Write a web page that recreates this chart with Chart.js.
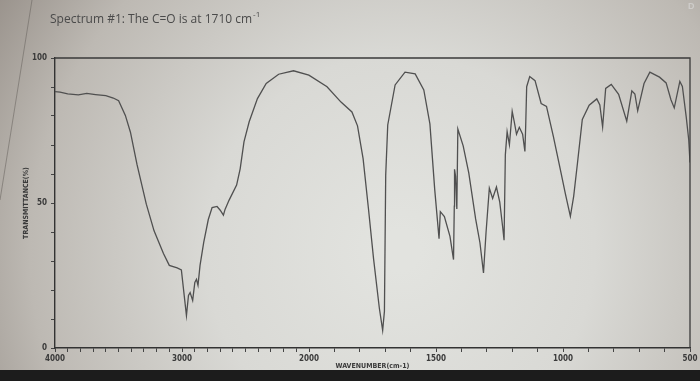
<!DOCTYPE html>
<html>
<head>
<meta charset="utf-8">
<script src="https://cdn.jsdelivr.net/npm/chart.js@4.4.1/dist/chart.umd.min.js"></script>
<style>
  html, body { margin: 0; padding: 0; background: #cfcccb; }
  #wrap { width: 700px; height: 381px; position: relative; }
  canvas { display: block; }
</style>
</head>
<body>
<div id="wrap"><canvas id="c" width="700" height="381"></canvas></div>
<script>
// ---- data ----
const chartTitle = 'Spectrum #1: The C=O is at 1710 cm';
const chartTitleSup = '-1';
const xAxisTitle = 'WAVENUMBER(cm-1)';
const yAxisTitle = 'TRANSMITTANCE(%)';

const wavenumbers = [4000,3960,3900,3816,3750,3681,3600,3541,3499,3446,
  3406,3354,3281,3220,3146,3100,3038,3005,2965,2949,
  2936,2916,2899,2886,2874,2858,2829,2793,2763,2724,
  2699,2674,2661,2629,2570,2542,2512,2471,2406,2337,
  2239,2122,2001,1929,1874,1831,1809,1787,1766,1746,
  1723,1710,1703,1698,1690,1661,1622,1582,1548,1524,
  1505,1488,1483,1467,1445,1431,1428,1427,1423,1418,
  1414,1393,1371,1344,1327,1313,1303,1290,1277,1262,
  1249,1237,1232,1227,1220,1211,1200,1192,1183,1172,
  1159,1150,1147,1143,1131,1110,1086,1065,1038,1010,
  991,971,958,943,924,897,867,855,844,832,
  810,781,749,729,717,706,681,658,620,594,
  575,562,540,530,515,505,500];

const transmittance = [88.4,88.2,87.6,87.3,87.8,87.4,87.0,86.2,85.3,80.2,
  74.4,63.2,49.6,40.4,32.6,28.5,27.6,26.9,11.2,18.1,
  19.1,16.4,22.6,23.7,21.6,28.5,36.4,44.3,48.4,48.8,
  47.5,45.8,47.8,51.0,56.2,61.8,71.1,78.0,86.0,91.2,
  94.4,95.6,94.1,90.1,84.8,81.4,76.6,65.3,48.1,30.9,
  13.7,6.1,12.7,59.6,76.9,90.7,95.1,94.5,89.0,77.3,
  54.6,37.7,47.0,45.3,38.5,30.5,48.9,61.6,59.2,47.9,
  75.5,69.7,60.4,44.5,36.3,25.9,39.8,55.1,51.6,55.5,
  50.3,41.3,37.2,66.6,74.6,70.1,81.6,78.1,73.7,76.1,
  73.7,67.8,76.2,90.1,93.6,92.2,84.3,83.3,73.0,61.3,
  53.3,45.4,52.3,63.8,78.8,83.7,85.9,83.8,76.2,89.5,
  90.9,87.5,78.2,88.7,87.6,81.8,91.2,95.1,93.4,91.4,
  85.6,82.8,91.9,90.2,79.8,71.8,64.0];

const xTickLabels = [4000, 3000, 2000, 1500, 1000, 500];
const xMinorStep = 100;
const yTickLabels = [0, 50, 100];

// The instrument chart doubles its scale below 2000 cm-1.
function toU(w) { return w >= 2000 ? 4000 - w : 2000 + 2 * (2000 - w); }
function fromU(u) { return u <= 2000 ? 4000 - u : 2000 - (u - 2000) / 2; }

const points = wavenumbers.map((w, i) => ({ x: toU(w), y: transmittance[i] }));

const backgroundPlugin = {
  id: 'photoBackground',
  beforeDraw(chart) {
    const ctx = chart.ctx;
    const W = chart.width, H = chart.height;
    ctx.save();
    const g = ctx.createRadialGradient(400, 250, 20, 400, 250, 520);
    g.addColorStop(0, '#e2e3df');
    g.addColorStop(0.35, '#d9d9d5');
    g.addColorStop(0.7, '#bdb9b3');
    g.addColorStop(1, '#8a827b');
    ctx.fillStyle = g;
    ctx.fillRect(0, 0, W, H);
    // dark band at the bottom of the photo
    ctx.fillStyle = '#1c1c1c';
    ctx.fillRect(0, 370, W, H - 370);
    // faint paper edge at top-left
    ctx.strokeStyle = 'rgba(110,105,100,0.6)';
    ctx.lineWidth = 1;
    ctx.beginPath();
    ctx.moveTo(32, 0);
    ctx.lineTo(0, 200);
    ctx.stroke();
    ctx.restore();
  }
};

const framePlugin = {
  id: 'frameAndTitle',
  afterDraw(chart) {
    const { ctx, chartArea: a } = chart;
    ctx.save();
    ctx.strokeStyle = '#3a3a3a';
    ctx.lineWidth = 1.3;
    ctx.beginPath();
    ctx.moveTo(a.left, a.top);
    ctx.lineTo(a.right, a.top);
    ctx.lineTo(a.right, a.bottom);
    ctx.stroke();
    // title
    ctx.fillStyle = '#4a4a4a';
    ctx.font = '12px "Open Sans", "Liberation Sans", sans-serif';
    ctx.textBaseline = 'alphabetic';
    ctx.textAlign = 'left';
    ctx.fillText(chartTitle, 50, 23);
    const tw = ctx.measureText(chartTitle).width;
    ctx.font = '8px "Open Sans", "Liberation Sans", sans-serif';
    ctx.fillText(chartTitleSup, 50 + tw + 1, 17);
    // small mark at the top right of the photo
    ctx.fillStyle = 'rgba(220,220,220,0.6)';
    ctx.font = 'bold 9px "Liberation Sans", sans-serif';
    ctx.fillText('D', 688, 9);
    ctx.restore();
  }
};

const tickFont = { family: '"DejaVu Sans Condensed", "DejaVu Sans", sans-serif', size: 8, weight: 'bold' };

new Chart(document.getElementById('c'), {
  type: 'line',
  data: {
    datasets: [{
      label: 'Transmittance',
      data: points,
      borderColor: '#505050',
      borderWidth: 1.3,
      pointRadius: 0,
      tension: 0,
      fill: false
    }]
  },
  options: {
    responsive: false,
    animation: false,
    devicePixelRatio: 1,
    layout: { padding: { top: 58, right: 10, left: 0, bottom: 0 } },
    plugins: {
      legend: { display: false },
      tooltip: { enabled: false },
      title: { display: false }
    },
    scales: {
      x: {
        type: 'linear',
        min: 0,
        max: toU(500),
        afterBuildTicks(scale) {
          const t = [];
          for (let w = 4000; w >= 500; w -= xMinorStep) t.push({ value: toU(w) });
          scale.ticks = t;
        },
        afterFit(scale) { scale.height = 33; },
        ticks: {
          autoSkip: false,
          maxRotation: 0,
          padding: 2,
          color: '#3a3a3a',
          font: tickFont,
          callback(v) {
            const w = Math.round(fromU(v));
            return xTickLabels.includes(w) ? String(w) : '';
          }
        },
        grid: { drawOnChartArea: false, tickLength: 4, color: '#444' },
        border: { display: true, color: '#333', width: 1.4 },
        title: {
          display: true,
          text: xAxisTitle,
          color: '#3a3a3a',
          font: { family: '"DejaVu Sans Condensed", "DejaVu Sans", sans-serif', size: 7, weight: 'bold' },
          padding: { top: 0, bottom: 11 }
        }
      },
      y: {
        min: 0,
        max: 100,
        afterFit(scale) { scale.width = 55; },
        ticks: {
          stepSize: 10,
          autoSkip: false,
          padding: 4,
          color: '#3a3a3a',
          font: tickFont,
          callback(v) { return yTickLabels.includes(v) ? String(v) : ''; }
        },
        grid: { drawOnChartArea: false, tickLength: 4, color: '#444' },
        border: { display: true, color: '#333', width: 1.4 },
        title: {
          display: true,
          text: yAxisTitle,
          color: '#3a3a3a',
          font: { family: '"DejaVu Sans Condensed", "DejaVu Sans", sans-serif', size: 7, weight: 'bold' },
          padding: { top: 22, bottom: 0 }
        }
      }
    }
  },
  plugins: [backgroundPlugin, framePlugin]
});
</script>
</body>
</html>
